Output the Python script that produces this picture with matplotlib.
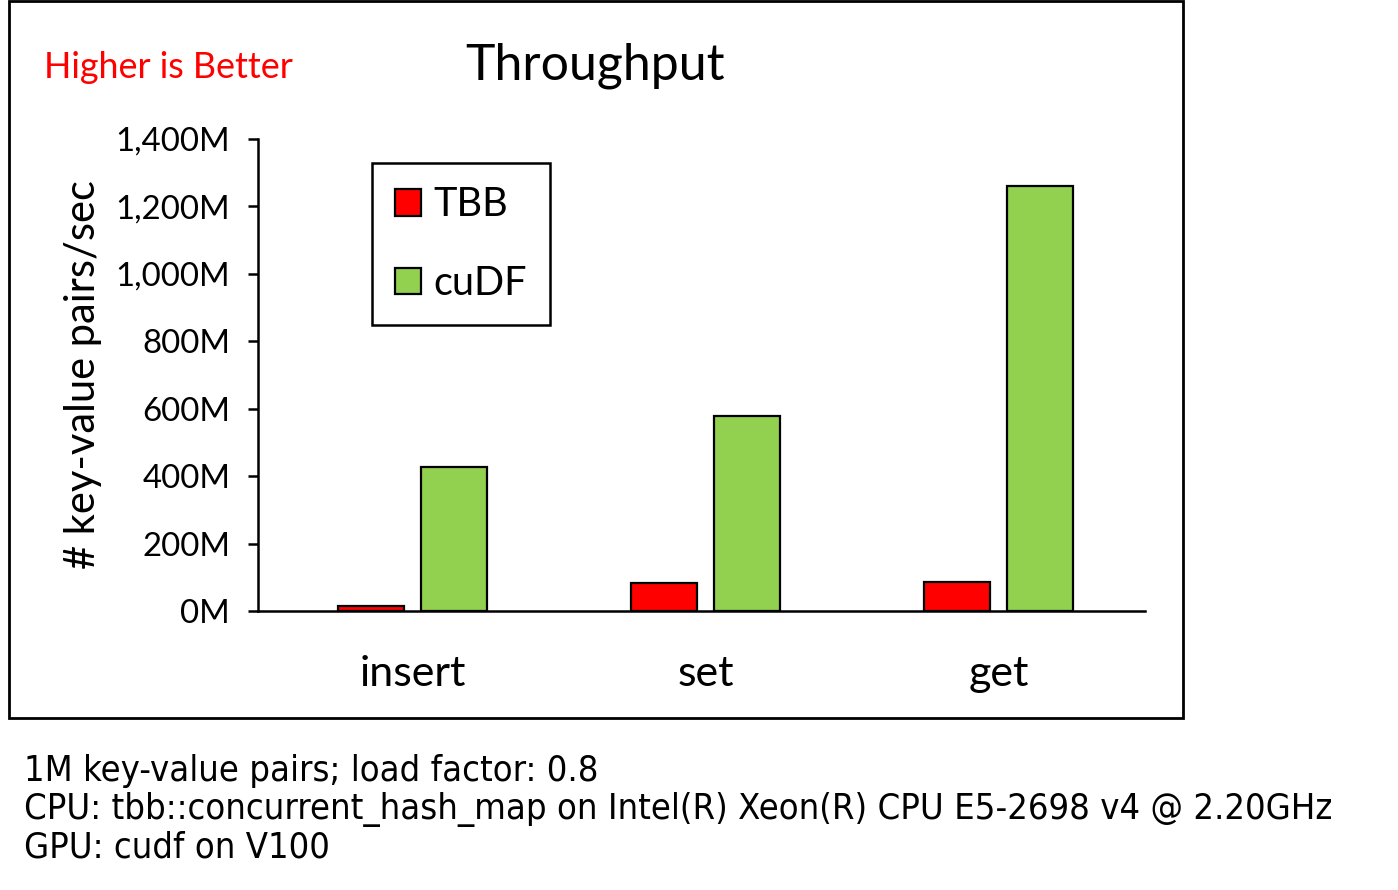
import matplotlib
matplotlib.use('Agg')
import matplotlib.pyplot as plt
from matplotlib.patches import Rectangle
import numpy as np

# 数据 (从图中读取, 单位: M key-value pairs/sec)
categories = ['insert', 'set', 'get']
tbb = [14, 82, 85]
cudf = [427, 578, 1260]
yticks = [0, 200, 400, 600, 800, 1000, 1200, 1400]
footer = ['1M key-value pairs; load factor: 0.8',
          'CPU: tbb::concurrent_hash_map on Intel(R) Xeon(R) CPU E5-2698 v4 @ 2.20GHz',
          'GPU: cudf on V100']

W, H = 1398, 890
chart_font = 'Lato'

fig = plt.figure(figsize=(W / 100, H / 100), dpi=100)
ax = fig.add_axes([258 / W, 1 - 611 / H, (1145 - 258) / W, (611 - 139) / H])

x = np.arange(len(categories))
bw = 0.225
off = 0.1416
ax.bar(x - off, tbb, bw, color='#FF0000', edgecolor='black', linewidth=1.6, label='TBB')
ax.bar(x + off, cudf, bw, color='#92D050', edgecolor='black', linewidth=1.6, label='cuDF')

ax.set_xlim(-0.527, 2.5)
ax.set_ylim(0, 1400)
ax.set_yticks(yticks)
ax.set_yticklabels(['{:,}M'.format(v) for v in yticks], fontsize=23.8, family=chart_font)
ax.set_xticks(x)
ax.set_xticklabels(categories, fontsize=31, family=chart_font)
ax.tick_params(axis='y', direction='out', length=7, width=1.8, pad=13)
ax.tick_params(axis='x', length=0, pad=32)
for s in ['top', 'right']:
    ax.spines[s].set_visible(False)
ax.spines['left'].set_linewidth(1.8)
ax.spines['bottom'].set_linewidth(1.8)

leg = ax.legend(loc='upper left', bbox_to_anchor=(372 / W, 1 - 163 / H),
                bbox_transform=fig.transFigure, borderaxespad=0,
                prop={'family': chart_font, 'size': 28.5},
                handlelength=0.66, handleheight=0.66, handletextpad=0.3,
                labelspacing=1.05, borderpad=0.59, fancybox=False, framealpha=1)
leg.get_frame().set_edgecolor('black')
leg.get_frame().set_linewidth(1.8)

# 标题和说明
fig.text(595 / W, 1 - 66 / H, 'Throughput', fontsize=36, family=chart_font,
         ha='center', va='center')
fig.text(44 / W, 1 - 68 / H, 'Higher is Better', fontsize=25.8, family=chart_font,
         color='red', ha='left', va='center')
fig.text(83 / W, 1 - 375 / H, '# key-value pairs/sec', fontsize=30, family=chart_font,
         rotation=90, ha='center', va='center')

# 外框
fig.patches.append(Rectangle((9 / W, 1 - 718 / H), (1183 - 9) / W, (718 - 1) / H,
                             transform=fig.transFigure, fill=False,
                             edgecolor='black', linewidth=2))

# 底部文字
for i, line in enumerate(footer):
    fig.text(24 / W, 1 - (771 + 38.5 * i) / H, line, fontsize=26,
             family='DejaVu Sans', fontstretch='condensed', ha='left', va='center')

fig.savefig('out.png', dpi=100)
